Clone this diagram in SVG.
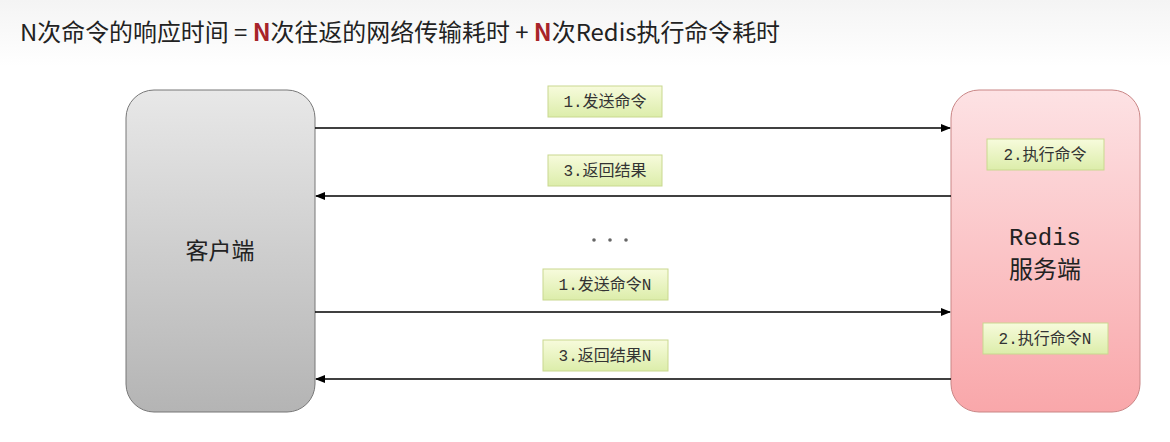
<svg xmlns="http://www.w3.org/2000/svg" width="1170" height="442" viewBox="0 0 1170 442">
<defs>
<linearGradient id="gc" x1="0" y1="0" x2="0" y2="1"><stop offset="0" stop-color="#e8e8e8"/><stop offset="1" stop-color="#b4b4b4"/></linearGradient>
<linearGradient id="gr" x1="0" y1="0" x2="0" y2="1"><stop offset="0" stop-color="#fde2e4"/><stop offset="1" stop-color="#f9a7aa"/></linearGradient>
<linearGradient id="gl" x1="0" y1="0" x2="0" y2="1"><stop offset="0" stop-color="#f7fbdc"/><stop offset="1" stop-color="#dcedaa"/></linearGradient>
<linearGradient id="gbg" x1="0" y1="0" x2="0" y2="1"><stop offset="0" stop-color="#f4f4f4"/><stop offset="0.15" stop-color="#ffffff"/></linearGradient>
<marker id="ah" markerWidth="10" markerHeight="8" refX="9" refY="4" orient="auto" markerUnits="userSpaceOnUse"><path d="M0,0 L10,4 L0,8 Z" fill="#000"/></marker>
</defs>
<style>
.t{font-family:"Liberation Mono","Noto Sans CJK SC",monospace;font-size:16px;fill:#333;text-anchor:middle}
.lb{fill:url(#gl);stroke:#c9d88f;stroke-width:1}
.ln{stroke:#000;stroke-width:1.5;fill:none;marker-end:url(#ah)}
</style>
<rect width="1170" height="442" fill="url(#gbg)"/>
<text x="20" y="41" font-family="'Noto Sans CJK SC',sans-serif" font-size="23.5" fill="#222" textLength="760" lengthAdjust="spacingAndGlyphs">N次命令的响应时间 = <tspan fill="#a8232a" font-weight="bold">N</tspan>次往返的网络传输耗时 + <tspan fill="#a8232a" font-weight="bold">N</tspan>次Redis执行命令耗时</text>
<g id="client"><rect x="126" y="90" width="189" height="322" rx="28" fill="url(#gc)" stroke="#777" stroke-width="1"/>
<text x="220" y="259" font-family="'Noto Sans CJK SC',sans-serif" font-size="23" fill="#222" text-anchor="middle">客户端</text></g>
<g id="server"><rect x="951" y="90" width="189" height="322" rx="28" fill="url(#gr)" stroke="#c98585" stroke-width="1"/>
<text x="1045" y="245" class="t" style="font-size:24px;fill:#222">Redis</text>
<text x="1045" y="278" font-family="'Noto Sans CJK SC',sans-serif" font-size="24" fill="#222" text-anchor="middle">服务端</text></g>
<g id="connectors">
<line class="ln" x1="315" y1="128" x2="950" y2="128"/>
<line class="ln" x1="951" y1="196" x2="316" y2="196"/>
<line class="ln" x1="315" y1="312" x2="950" y2="312"/>
<line class="ln" x1="951" y1="379" x2="316" y2="379"/>
</g>
<g id="l1"><rect class="lb" x="548" y="86" width="114" height="31"/><text class="t" x="605" y="107">1.发送命令</text></g>
<g id="l2"><rect class="lb" x="548" y="155" width="114" height="31"/><text class="t" x="605" y="176">3.返回结果</text></g>
<g id="l3"><rect class="lb" x="543" y="269" width="125" height="31"/><text class="t" x="605" y="290">1.发送命令N</text></g>
<g id="l4"><rect class="lb" x="543" y="340" width="125" height="31"/><text class="t" x="605" y="361">3.返回结果N</text></g>
<g id="e1"><rect class="lb" x="987" y="139" width="117" height="31"/><text class="t" x="1045" y="160">2.执行命令</text></g>
<g id="e2"><rect class="lb" x="983" y="323" width="125" height="31"/><text class="t" x="1045" y="344">2.执行命令N</text></g>
<g fill="#666"><circle cx="594" cy="240" r="1.8"/><circle cx="610" cy="240" r="1.8"/><circle cx="626" cy="240" r="1.8"/></g>
</svg>
